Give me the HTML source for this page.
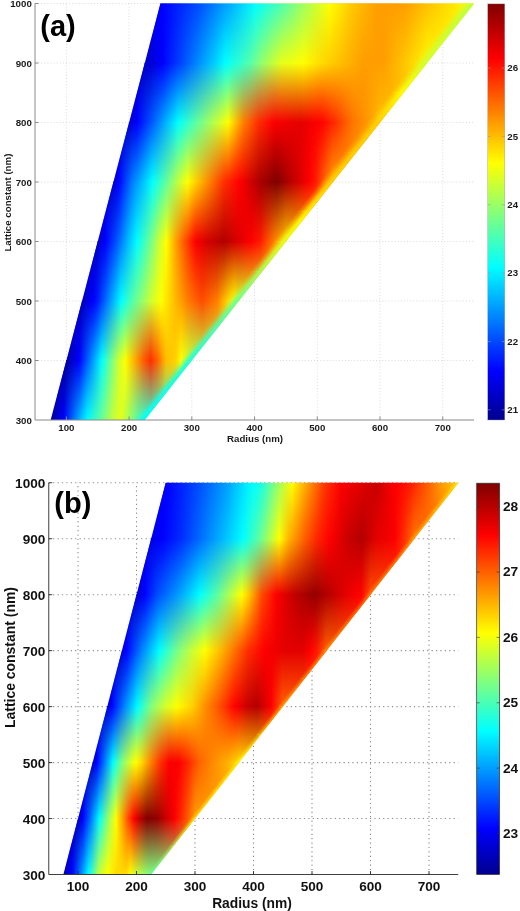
<!DOCTYPE html>
<html lang="en"><head><meta charset="utf-8"><title>Figure</title>
<style>
html,body{margin:0;padding:0;background:#fff}
body{width:520px;height:911px;overflow:hidden}
svg{display:block;font-family:"Liberation Sans",sans-serif;font-weight:bold}
</style></head><body>
<svg width="520" height="911" viewBox="0 0 520 911">
<defs><linearGradient id="ah300" gradientUnits="userSpaceOnUse" x1="50.66" y1="0" x2="144.8" y2="0"><stop offset="0.0000" stop-color="#000080"/><stop offset="0.0096" stop-color="#00009e"/><stop offset="0.1372" stop-color="#0000ff"/><stop offset="0.1439" stop-color="#0005ff"/><stop offset="0.2572" stop-color="#0080ff"/><stop offset="0.2761" stop-color="#0094ff"/><stop offset="0.3721" stop-color="#00f0ff"/><stop offset="0.3935" stop-color="#00ffff"/><stop offset="0.4723" stop-color="#38ffc7"/><stop offset="0.5704" stop-color="#80ff80"/><stop offset="0.6684" stop-color="#c7ff38"/><stop offset="0.7505" stop-color="#e5ff1a"/><stop offset="0.8305" stop-color="#9eff61"/><stop offset="0.8685" stop-color="#80ff80"/><stop offset="0.9318" stop-color="#4dffb2"/><stop offset="1.0000" stop-color="#38ffc7"/></linearGradient><linearGradient id="ah400" gradientUnits="userSpaceOnUse" x1="66.36" y1="0" x2="191.82" y2="0"><stop offset="0.0000" stop-color="#00009e"/><stop offset="0.0180" stop-color="#0000b2"/><stop offset="0.1005" stop-color="#0000ff"/><stop offset="0.1060" stop-color="#0005ff"/><stop offset="0.1924" stop-color="#0080ff"/><stop offset="0.2780" stop-color="#00faff"/><stop offset="0.2814" stop-color="#00ffff"/><stop offset="0.3524" stop-color="#6bff94"/><stop offset="0.3661" stop-color="#80ff80"/><stop offset="0.4140" stop-color="#c7ff38"/><stop offset="0.4690" stop-color="#ffff00"/><stop offset="0.4740" stop-color="#fffa00"/><stop offset="0.5492" stop-color="#ffa800"/><stop offset="0.5839" stop-color="#ff8000"/><stop offset="0.6100" stop-color="#ff6100"/><stop offset="0.6724" stop-color="#ff2e00"/><stop offset="0.7340" stop-color="#ff6b00"/><stop offset="0.7490" stop-color="#ff8000"/><stop offset="0.7940" stop-color="#ffbd00"/><stop offset="0.8692" stop-color="#ffd100"/><stop offset="0.9148" stop-color="#ffff00"/><stop offset="0.9300" stop-color="#f0ff0f"/><stop offset="1.0000" stop-color="#bdff42"/></linearGradient><linearGradient id="ah500" gradientUnits="userSpaceOnUse" x1="82.07" y1="0" x2="238.85" y2="0"><stop offset="0.0000" stop-color="#0000bd"/><stop offset="0.0707" stop-color="#0000ff"/><stop offset="0.0980" stop-color="#0019ff"/><stop offset="0.1636" stop-color="#0080ff"/><stop offset="0.1767" stop-color="#0094ff"/><stop offset="0.2458" stop-color="#00faff"/><stop offset="0.2501" stop-color="#00ffff"/><stop offset="0.3143" stop-color="#4dffb2"/><stop offset="0.3637" stop-color="#80ff80"/><stop offset="0.3835" stop-color="#94ff6b"/><stop offset="0.4424" stop-color="#d1ff2e"/><stop offset="0.5046" stop-color="#ffff00"/><stop offset="0.5115" stop-color="#fffa00"/><stop offset="0.5903" stop-color="#ffbd00"/><stop offset="0.6697" stop-color="#ff8000"/><stop offset="0.7657" stop-color="#ff4c00"/><stop offset="0.8617" stop-color="#ff8000"/><stop offset="0.9321" stop-color="#ffdb00"/><stop offset="0.9717" stop-color="#ffff00"/><stop offset="1.0000" stop-color="#e5ff1a"/></linearGradient><linearGradient id="ah600" gradientUnits="userSpaceOnUse" x1="97.73" y1="0" x2="285.92" y2="0"><stop offset="0.0000" stop-color="#0000c7"/><stop offset="0.0053" stop-color="#0000d1"/><stop offset="0.0393" stop-color="#0000ff"/><stop offset="0.0960" stop-color="#004dff"/><stop offset="0.1263" stop-color="#0080ff"/><stop offset="0.1627" stop-color="#00bdff"/><stop offset="0.2082" stop-color="#00ffff"/><stop offset="0.2117" stop-color="#05fffa"/><stop offset="0.2773" stop-color="#6bff94"/><stop offset="0.2880" stop-color="#80ff80"/><stop offset="0.3253" stop-color="#c7ff38"/><stop offset="0.3644" stop-color="#ffff00"/><stop offset="0.3680" stop-color="#fffa00"/><stop offset="0.4160" stop-color="#ff9e00"/><stop offset="0.4348" stop-color="#ff8000"/><stop offset="0.4661" stop-color="#ff4c00"/><stop offset="0.5191" stop-color="#ff0000"/><stop offset="0.5227" stop-color="#fa0000"/><stop offset="0.5893" stop-color="#d10000"/><stop offset="0.6720" stop-color="#b30000"/><stop offset="0.7627" stop-color="#e50000"/><stop offset="0.8133" stop-color="#ff0000"/><stop offset="0.8640" stop-color="#ff1a00"/><stop offset="0.9387" stop-color="#ff8000"/><stop offset="1.0000" stop-color="#ffc700"/></linearGradient><linearGradient id="ah700" gradientUnits="userSpaceOnUse" x1="113.39" y1="0" x2="332.99" y2="0"><stop offset="0.0000" stop-color="#0000d1"/><stop offset="0.0110" stop-color="#0000e6"/><stop offset="0.0236" stop-color="#0000ff"/><stop offset="0.0818" stop-color="#0075ff"/><stop offset="0.0888" stop-color="#0080ff"/><stop offset="0.1380" stop-color="#00c7ff"/><stop offset="0.1766" stop-color="#00ffff"/><stop offset="0.1801" stop-color="#05fffa"/><stop offset="0.2349" stop-color="#57ffa8"/><stop offset="0.2581" stop-color="#80ff80"/><stop offset="0.2930" stop-color="#bdff42"/><stop offset="0.3388" stop-color="#ffff00"/><stop offset="0.3423" stop-color="#fffa00"/><stop offset="0.3903" stop-color="#ffbd00"/><stop offset="0.4393" stop-color="#ff8000"/><stop offset="0.4474" stop-color="#ff7500"/><stop offset="0.5046" stop-color="#ff2e00"/><stop offset="0.5745" stop-color="#ff0000"/><stop offset="0.5823" stop-color="#fa0000"/><stop offset="0.6691" stop-color="#a80000"/><stop offset="0.7422" stop-color="#800000"/><stop offset="0.8016" stop-color="#b30000"/><stop offset="0.8611" stop-color="#e50000"/><stop offset="0.8908" stop-color="#ff0000"/><stop offset="0.9205" stop-color="#ff1a00"/><stop offset="0.9662" stop-color="#ff6b00"/><stop offset="0.9797" stop-color="#ff8000"/><stop offset="1.0000" stop-color="#ff9e00"/></linearGradient><linearGradient id="ah800" gradientUnits="userSpaceOnUse" x1="129.09" y1="0" x2="380.01" y2="0"><stop offset="0.0000" stop-color="#0000d1"/><stop offset="0.0311" stop-color="#0000ff"/><stop offset="0.0830" stop-color="#004dff"/><stop offset="0.1150" stop-color="#0080ff"/><stop offset="0.1950" stop-color="#00ffff"/><stop offset="0.2950" stop-color="#80ff80"/><stop offset="0.3950" stop-color="#ffff00"/><stop offset="0.4550" stop-color="#ff8000"/><stop offset="0.5150" stop-color="#ff2e00"/><stop offset="0.5762" stop-color="#ff0000"/><stop offset="0.5830" stop-color="#fa0000"/><stop offset="0.6830" stop-color="#e50000"/><stop offset="0.7563" stop-color="#ff0000"/><stop offset="0.7710" stop-color="#ff0500"/><stop offset="0.8214" stop-color="#ff2e00"/><stop offset="0.8910" stop-color="#ff7500"/><stop offset="0.9080" stop-color="#ff8000"/><stop offset="0.9590" stop-color="#ff9e00"/><stop offset="1.0000" stop-color="#ffbd00"/></linearGradient><linearGradient id="ah900" gradientUnits="userSpaceOnUse" x1="144.8" y1="0" x2="427.04" y2="0"><stop offset="0.0000" stop-color="#0000c7"/><stop offset="0.0181" stop-color="#0000d1"/><stop offset="0.0621" stop-color="#0000ff"/><stop offset="0.1355" stop-color="#004dff"/><stop offset="0.1793" stop-color="#0080ff"/><stop offset="0.2493" stop-color="#00d1ff"/><stop offset="0.2849" stop-color="#00ffff"/><stop offset="0.3666" stop-color="#4dffb2"/><stop offset="0.4022" stop-color="#80ff80"/><stop offset="0.4235" stop-color="#9eff61"/><stop offset="0.4840" stop-color="#e5ff1a"/><stop offset="0.5516" stop-color="#faff05"/><stop offset="0.5609" stop-color="#ffff00"/><stop offset="0.6262" stop-color="#ffdb00"/><stop offset="0.6991" stop-color="#ffbd00"/><stop offset="0.7720" stop-color="#ff9e00"/><stop offset="0.8467" stop-color="#ff9e00"/><stop offset="0.9214" stop-color="#ffc700"/><stop offset="0.9701" stop-color="#ffe500"/><stop offset="1.0000" stop-color="#fffa00"/></linearGradient><linearGradient id="ah1000" gradientUnits="userSpaceOnUse" x1="160.46" y1="0" x2="474.11" y2="0"><stop offset="0.0000" stop-color="#0000fa"/><stop offset="0.0077" stop-color="#0000ff"/><stop offset="0.1232" stop-color="#004dff"/><stop offset="0.1760" stop-color="#0080ff"/><stop offset="0.2288" stop-color="#00b2ff"/><stop offset="0.3024" stop-color="#00ffff"/><stop offset="0.3856" stop-color="#4dffb2"/><stop offset="0.4290" stop-color="#80ff80"/><stop offset="0.4464" stop-color="#94ff6b"/><stop offset="0.5008" stop-color="#d1ff2e"/><stop offset="0.5411" stop-color="#ffff00"/><stop offset="0.5456" stop-color="#fffa00"/><stop offset="0.6128" stop-color="#ffc700"/><stop offset="0.6896" stop-color="#ff9e00"/><stop offset="0.7792" stop-color="#ff9e00"/><stop offset="0.8451" stop-color="#ffbd00"/><stop offset="0.9104" stop-color="#ffdb00"/><stop offset="0.9552" stop-color="#fff000"/><stop offset="0.9888" stop-color="#ffff00"/><stop offset="1.0000" stop-color="#faff05"/></linearGradient><linearGradient id="av300" gradientUnits="userSpaceOnUse" x1="0" y1="420" x2="0" y2="360.5"><stop offset="0" stop-color="#fff" stop-opacity="0"/><stop offset="1" stop-color="#fff"/></linearGradient><mask id="am300" maskUnits="userSpaceOnUse" x="0" y="0" width="520" height="911"><rect x="0" y="359.5" width="520" height="61.5" fill="url(#av300)"/></mask><linearGradient id="av400" gradientUnits="userSpaceOnUse" x1="0" y1="360.5" x2="0" y2="301"><stop offset="0" stop-color="#fff" stop-opacity="0"/><stop offset="1" stop-color="#fff"/></linearGradient><mask id="am400" maskUnits="userSpaceOnUse" x="0" y="0" width="520" height="911"><rect x="0" y="300" width="520" height="61.5" fill="url(#av400)"/></mask><linearGradient id="av500" gradientUnits="userSpaceOnUse" x1="0" y1="301" x2="0" y2="241.5"><stop offset="0" stop-color="#fff" stop-opacity="0"/><stop offset="1" stop-color="#fff"/></linearGradient><mask id="am500" maskUnits="userSpaceOnUse" x="0" y="0" width="520" height="911"><rect x="0" y="240.5" width="520" height="61.5" fill="url(#av500)"/></mask><linearGradient id="av600" gradientUnits="userSpaceOnUse" x1="0" y1="241.5" x2="0" y2="182"><stop offset="0" stop-color="#fff" stop-opacity="0"/><stop offset="1" stop-color="#fff"/></linearGradient><mask id="am600" maskUnits="userSpaceOnUse" x="0" y="0" width="520" height="911"><rect x="0" y="181" width="520" height="61.5" fill="url(#av600)"/></mask><linearGradient id="av700" gradientUnits="userSpaceOnUse" x1="0" y1="182" x2="0" y2="122.5"><stop offset="0" stop-color="#fff" stop-opacity="0"/><stop offset="1" stop-color="#fff"/></linearGradient><mask id="am700" maskUnits="userSpaceOnUse" x="0" y="0" width="520" height="911"><rect x="0" y="121.5" width="520" height="61.5" fill="url(#av700)"/></mask><linearGradient id="av800" gradientUnits="userSpaceOnUse" x1="0" y1="122.5" x2="0" y2="63"><stop offset="0" stop-color="#fff" stop-opacity="0"/><stop offset="1" stop-color="#fff"/></linearGradient><mask id="am800" maskUnits="userSpaceOnUse" x="0" y="0" width="520" height="911"><rect x="0" y="62" width="520" height="61.5" fill="url(#av800)"/></mask><linearGradient id="av900" gradientUnits="userSpaceOnUse" x1="0" y1="63" x2="0" y2="3.5"><stop offset="0" stop-color="#fff" stop-opacity="0"/><stop offset="1" stop-color="#fff"/></linearGradient><mask id="am900" maskUnits="userSpaceOnUse" x="0" y="0" width="520" height="911"><rect x="0" y="2.5" width="520" height="61.5" fill="url(#av900)"/></mask><linearGradient id="aec" gradientUnits="userSpaceOnUse" x1="0" y1="3.5" x2="0" y2="420"><stop offset="0.0000" stop-color="#bdff42"/><stop offset="0.1429" stop-color="#d1ff2e"/><stop offset="0.2143" stop-color="#ffff00"/><stop offset="0.2857" stop-color="#ffd100"/><stop offset="0.4286" stop-color="#ffd100"/><stop offset="0.5204" stop-color="#ffff00"/><stop offset="0.5714" stop-color="#e5ff1a"/><stop offset="0.6905" stop-color="#80ff80"/><stop offset="0.7143" stop-color="#6bff94"/><stop offset="0.8571" stop-color="#1affe5"/><stop offset="1.0000" stop-color="#05fffa"/></linearGradient><linearGradient id="afg0" gradientUnits="userSpaceOnUse" x1="144.78" y1="420" x2="137.94" y2="414.6"><stop offset="0" stop-color="#fff" stop-opacity="1"/><stop offset="0.3" stop-color="#fff" stop-opacity="0.85"/><stop offset="0.65" stop-color="#fff" stop-opacity="0.3"/><stop offset="1" stop-color="#fff" stop-opacity="0"/></linearGradient><linearGradient id="afg1" gradientUnits="userSpaceOnUse" x1="168.3" y1="390.25" x2="161.34" y2="384.74"><stop offset="0" stop-color="#fff" stop-opacity="1"/><stop offset="0.3" stop-color="#fff" stop-opacity="0.85"/><stop offset="0.65" stop-color="#fff" stop-opacity="0.3"/><stop offset="1" stop-color="#fff" stop-opacity="0"/></linearGradient><linearGradient id="afg2" gradientUnits="userSpaceOnUse" x1="191.82" y1="360.5" x2="184.73" y2="354.89"><stop offset="0" stop-color="#fff" stop-opacity="1"/><stop offset="0.3" stop-color="#fff" stop-opacity="0.85"/><stop offset="0.65" stop-color="#fff" stop-opacity="0.3"/><stop offset="1" stop-color="#fff" stop-opacity="0"/></linearGradient><linearGradient id="afg3" gradientUnits="userSpaceOnUse" x1="215.35" y1="330.75" x2="208.12" y2="325.03"><stop offset="0" stop-color="#fff" stop-opacity="1"/><stop offset="0.3" stop-color="#fff" stop-opacity="0.85"/><stop offset="0.65" stop-color="#fff" stop-opacity="0.3"/><stop offset="1" stop-color="#fff" stop-opacity="0"/></linearGradient><linearGradient id="afg4" gradientUnits="userSpaceOnUse" x1="238.87" y1="301" x2="231.51" y2="295.18"><stop offset="0" stop-color="#fff" stop-opacity="1"/><stop offset="0.3" stop-color="#fff" stop-opacity="0.85"/><stop offset="0.65" stop-color="#fff" stop-opacity="0.3"/><stop offset="1" stop-color="#fff" stop-opacity="0"/></linearGradient><linearGradient id="afg5" gradientUnits="userSpaceOnUse" x1="262.4" y1="271.25" x2="254.9" y2="265.32"><stop offset="0" stop-color="#fff" stop-opacity="1"/><stop offset="0.3" stop-color="#fff" stop-opacity="0.85"/><stop offset="0.65" stop-color="#fff" stop-opacity="0.3"/><stop offset="1" stop-color="#fff" stop-opacity="0"/></linearGradient><linearGradient id="afg6" gradientUnits="userSpaceOnUse" x1="285.92" y1="241.5" x2="278.29" y2="235.47"><stop offset="0" stop-color="#fff" stop-opacity="1"/><stop offset="0.3" stop-color="#fff" stop-opacity="0.85"/><stop offset="0.65" stop-color="#fff" stop-opacity="0.3"/><stop offset="1" stop-color="#fff" stop-opacity="0"/></linearGradient><linearGradient id="afg7" gradientUnits="userSpaceOnUse" x1="309.44" y1="211.75" x2="301.69" y2="205.62"><stop offset="0" stop-color="#fff" stop-opacity="1"/><stop offset="0.3" stop-color="#fff" stop-opacity="0.85"/><stop offset="0.65" stop-color="#fff" stop-opacity="0.3"/><stop offset="1" stop-color="#fff" stop-opacity="0"/></linearGradient><linearGradient id="afg8" gradientUnits="userSpaceOnUse" x1="332.97" y1="182" x2="325.08" y2="175.76"><stop offset="0" stop-color="#fff" stop-opacity="1"/><stop offset="0.3" stop-color="#fff" stop-opacity="0.85"/><stop offset="0.65" stop-color="#fff" stop-opacity="0.3"/><stop offset="1" stop-color="#fff" stop-opacity="0"/></linearGradient><linearGradient id="afg9" gradientUnits="userSpaceOnUse" x1="356.49" y1="152.25" x2="348.47" y2="145.91"><stop offset="0" stop-color="#fff" stop-opacity="1"/><stop offset="0.3" stop-color="#fff" stop-opacity="0.85"/><stop offset="0.65" stop-color="#fff" stop-opacity="0.3"/><stop offset="1" stop-color="#fff" stop-opacity="0"/></linearGradient><linearGradient id="afg10" gradientUnits="userSpaceOnUse" x1="380.01" y1="122.5" x2="371.86" y2="116.05"><stop offset="0" stop-color="#fff" stop-opacity="1"/><stop offset="0.3" stop-color="#fff" stop-opacity="0.85"/><stop offset="0.65" stop-color="#fff" stop-opacity="0.3"/><stop offset="1" stop-color="#fff" stop-opacity="0"/></linearGradient><linearGradient id="afg11" gradientUnits="userSpaceOnUse" x1="403.54" y1="92.75" x2="395.25" y2="86.2"><stop offset="0" stop-color="#fff" stop-opacity="1"/><stop offset="0.3" stop-color="#fff" stop-opacity="0.85"/><stop offset="0.65" stop-color="#fff" stop-opacity="0.3"/><stop offset="1" stop-color="#fff" stop-opacity="0"/></linearGradient><linearGradient id="afg12" gradientUnits="userSpaceOnUse" x1="427.06" y1="63" x2="418.65" y2="56.35"><stop offset="0" stop-color="#fff" stop-opacity="1"/><stop offset="0.3" stop-color="#fff" stop-opacity="0.85"/><stop offset="0.65" stop-color="#fff" stop-opacity="0.3"/><stop offset="1" stop-color="#fff" stop-opacity="0"/></linearGradient><linearGradient id="afg13" gradientUnits="userSpaceOnUse" x1="450.59" y1="33.25" x2="442.04" y2="26.49"><stop offset="0" stop-color="#fff" stop-opacity="1"/><stop offset="0.3" stop-color="#fff" stop-opacity="0.85"/><stop offset="0.65" stop-color="#fff" stop-opacity="0.3"/><stop offset="1" stop-color="#fff" stop-opacity="0"/></linearGradient><mask id="afm" maskUnits="userSpaceOnUse" x="0" y="0" width="520" height="911"><polygon points="146.78,420.3 170.3,389.95 156.19,389.95 132.67,420.3" fill="url(#afg0)"/><polygon points="170.3,390.55 193.82,360.2 179.5,360.2 155.98,390.55" fill="url(#afg1)"/><polygon points="193.82,360.8 217.35,330.45 202.81,330.45 179.29,360.8" fill="url(#afg2)"/><polygon points="217.35,331.05 240.87,300.7 226.12,300.7 202.6,331.05" fill="url(#afg3)"/><polygon points="240.87,301.3 264.4,270.95 249.43,270.95 225.91,301.3" fill="url(#afg4)"/><polygon points="264.4,271.55 287.92,241.2 272.74,241.2 249.22,271.55" fill="url(#afg5)"/><polygon points="287.92,241.8 311.44,211.45 296.05,211.45 272.53,241.8" fill="url(#afg6)"/><polygon points="311.44,212.05 334.97,181.7 319.36,181.7 295.84,212.05" fill="url(#afg7)"/><polygon points="334.97,182.3 358.49,151.95 342.67,151.95 319.15,182.3" fill="url(#afg8)"/><polygon points="358.49,152.55 382.01,122.2 365.98,122.2 342.46,152.55" fill="url(#afg9)"/><polygon points="382.01,122.8 405.54,92.45 389.29,92.45 365.76,122.8" fill="url(#afg10)"/><polygon points="405.54,93.05 429.06,62.7 412.6,62.7 389.07,93.05" fill="url(#afg11)"/><polygon points="429.06,63.3 452.59,32.95 435.91,32.95 412.38,63.3" fill="url(#afg12)"/><polygon points="452.59,33.55 476.11,3.2 459.22,3.2 435.69,33.55" fill="url(#afg13)"/></mask><clipPath id="aclip"><polygon points="50.68,420 160.46,3.5 474.11,3.5 144.78,420"/></clipPath><linearGradient id="bh300" gradientUnits="userSpaceOnUse" x1="63.4" y1="0" x2="151.1" y2="0"><stop offset="0.0000" stop-color="#00009e"/><stop offset="0.0137" stop-color="#0000b2"/><stop offset="0.0941" stop-color="#0000ff"/><stop offset="0.1209" stop-color="#0019ff"/><stop offset="0.1954" stop-color="#0080ff"/><stop offset="0.2326" stop-color="#00b2ff"/><stop offset="0.2875" stop-color="#00ffff"/><stop offset="0.3204" stop-color="#2effd1"/><stop offset="0.3660" stop-color="#80ff80"/><stop offset="0.4059" stop-color="#c7ff38"/><stop offset="0.4971" stop-color="#faff05"/><stop offset="0.5107" stop-color="#ffff00"/><stop offset="0.6055" stop-color="#ffdb00"/><stop offset="0.7138" stop-color="#ffdb00"/><stop offset="0.7627" stop-color="#ffff00"/><stop offset="0.8255" stop-color="#d1ff2e"/><stop offset="0.9350" stop-color="#94ff6b"/><stop offset="1.0000" stop-color="#80ff80"/></linearGradient><linearGradient id="bh400" gradientUnits="userSpaceOnUse" x1="78" y1="0" x2="195" y2="0"><stop offset="0.0000" stop-color="#0000bd"/><stop offset="0.0403" stop-color="#0000ff"/><stop offset="0.0991" stop-color="#0061ff"/><stop offset="0.1152" stop-color="#0080ff"/><stop offset="0.1795" stop-color="#00faff"/><stop offset="0.1821" stop-color="#00ffff"/><stop offset="0.2475" stop-color="#80ff80"/><stop offset="0.2632" stop-color="#9eff61"/><stop offset="0.3238" stop-color="#ffff00"/><stop offset="0.3462" stop-color="#ffdb00"/><stop offset="0.3984" stop-color="#ff8000"/><stop offset="0.4274" stop-color="#ff4c00"/><stop offset="0.4792" stop-color="#ff0000"/><stop offset="0.5103" stop-color="#d10000"/><stop offset="0.5897" stop-color="#800000"/><stop offset="0.6752" stop-color="#940000"/><stop offset="0.7470" stop-color="#c70000"/><stop offset="0.8205" stop-color="#fa0000"/><stop offset="0.8274" stop-color="#ff0000"/><stop offset="0.8889" stop-color="#ff2e00"/><stop offset="0.9641" stop-color="#ff7500"/><stop offset="0.9731" stop-color="#ff8000"/><stop offset="1.0000" stop-color="#ff9e00"/></linearGradient><linearGradient id="bh500" gradientUnits="userSpaceOnUse" x1="92.6" y1="0" x2="238.9" y2="0"><stop offset="0.0000" stop-color="#0000c7"/><stop offset="0.0062" stop-color="#0000d1"/><stop offset="0.0270" stop-color="#0000ff"/><stop offset="0.0711" stop-color="#0061ff"/><stop offset="0.0843" stop-color="#0080ff"/><stop offset="0.1374" stop-color="#00faff"/><stop offset="0.1398" stop-color="#00ffff"/><stop offset="0.2010" stop-color="#80ff80"/><stop offset="0.2693" stop-color="#e5ff1a"/><stop offset="0.2964" stop-color="#ffff00"/><stop offset="0.3342" stop-color="#ffdb00"/><stop offset="0.3992" stop-color="#ff8000"/><stop offset="0.4662" stop-color="#ff2e00"/><stop offset="0.5228" stop-color="#ff0000"/><stop offset="0.5290" stop-color="#fa0000"/><stop offset="0.5837" stop-color="#fa0000"/><stop offset="0.5920" stop-color="#ff0000"/><stop offset="0.6500" stop-color="#ff2400"/><stop offset="0.7273" stop-color="#ff6100"/><stop offset="0.7975" stop-color="#ff8000"/><stop offset="0.8209" stop-color="#ff8a00"/><stop offset="0.9255" stop-color="#ffb300"/><stop offset="1.0000" stop-color="#ffdb00"/></linearGradient><linearGradient id="bh600" gradientUnits="userSpaceOnUse" x1="107.25" y1="0" x2="282.75" y2="0"><stop offset="0.0000" stop-color="#0000d1"/><stop offset="0.0252" stop-color="#0000ff"/><stop offset="0.0897" stop-color="#0075ff"/><stop offset="0.0959" stop-color="#0080ff"/><stop offset="0.1695" stop-color="#00faff"/><stop offset="0.1725" stop-color="#00ffff"/><stop offset="0.2481" stop-color="#80ff80"/><stop offset="0.3268" stop-color="#d1ff2e"/><stop offset="0.3981" stop-color="#ffff00"/><stop offset="0.4060" stop-color="#fffa00"/><stop offset="0.4846" stop-color="#ffd100"/><stop offset="0.5627" stop-color="#ff8a00"/><stop offset="0.5760" stop-color="#ff8000"/><stop offset="0.6425" stop-color="#ff4c00"/><stop offset="0.7222" stop-color="#ff0500"/><stop offset="0.7287" stop-color="#ff0000"/><stop offset="0.8003" stop-color="#c70000"/><stop offset="0.8533" stop-color="#b30000"/><stop offset="0.9313" stop-color="#fa0000"/><stop offset="0.9348" stop-color="#ff0000"/><stop offset="1.0000" stop-color="#ff6100"/></linearGradient><linearGradient id="bh700" gradientUnits="userSpaceOnUse" x1="121.9" y1="0" x2="326.6" y2="0"><stop offset="0.0000" stop-color="#0000d1"/><stop offset="0.0054" stop-color="#0000e6"/><stop offset="0.0204" stop-color="#0000ff"/><stop offset="0.0957" stop-color="#0080ff"/><stop offset="0.1827" stop-color="#00ffff"/><stop offset="0.1861" stop-color="#05fffa"/><stop offset="0.2765" stop-color="#80ff80"/><stop offset="0.3425" stop-color="#c7ff38"/><stop offset="0.4051" stop-color="#ffff00"/><stop offset="0.4108" stop-color="#fffa00"/><stop offset="0.4792" stop-color="#ffbd00"/><stop offset="0.5379" stop-color="#ff8000"/><stop offset="0.5476" stop-color="#ff7500"/><stop offset="0.6146" stop-color="#ff2e00"/><stop offset="0.6950" stop-color="#ff0000"/><stop offset="0.7040" stop-color="#fa0000"/><stop offset="0.7948" stop-color="#e50000"/><stop offset="0.8847" stop-color="#e50000"/><stop offset="0.9189" stop-color="#ff0000"/><stop offset="0.9531" stop-color="#ff1a00"/><stop offset="1.0000" stop-color="#ff6100"/></linearGradient><linearGradient id="bh800" gradientUnits="userSpaceOnUse" x1="136.5" y1="0" x2="370.5" y2="0"><stop offset="0.0000" stop-color="#0000d1"/><stop offset="0.0340" stop-color="#0000ff"/><stop offset="0.0906" stop-color="#004dff"/><stop offset="0.1462" stop-color="#0080ff"/><stop offset="0.1795" stop-color="#009eff"/><stop offset="0.2671" stop-color="#00faff"/><stop offset="0.2712" stop-color="#00ffff"/><stop offset="0.3419" stop-color="#57ffa8"/><stop offset="0.3675" stop-color="#80ff80"/><stop offset="0.4124" stop-color="#c7ff38"/><stop offset="0.4490" stop-color="#ffff00"/><stop offset="0.4722" stop-color="#ffdb00"/><stop offset="0.5121" stop-color="#ff8000"/><stop offset="0.5342" stop-color="#ff4c00"/><stop offset="0.5963" stop-color="#ff0000"/><stop offset="0.6004" stop-color="#fa0000"/><stop offset="0.6816" stop-color="#bd0000"/><stop offset="0.7628" stop-color="#940000"/><stop offset="0.8312" stop-color="#bd0000"/><stop offset="0.8953" stop-color="#e50000"/><stop offset="0.9505" stop-color="#ff0000"/><stop offset="0.9615" stop-color="#ff0500"/><stop offset="1.0000" stop-color="#ff4c00"/></linearGradient><linearGradient id="bh900" gradientUnits="userSpaceOnUse" x1="151.1" y1="0" x2="414.4" y2="0"><stop offset="0.0000" stop-color="#0000e6"/><stop offset="0.0419" stop-color="#0000ff"/><stop offset="0.1174" stop-color="#002eff"/><stop offset="0.2085" stop-color="#0080ff"/><stop offset="0.2883" stop-color="#00c7ff"/><stop offset="0.3474" stop-color="#00ffff"/><stop offset="0.3528" stop-color="#05fffa"/><stop offset="0.4060" stop-color="#57ffa8"/><stop offset="0.4259" stop-color="#80ff80"/><stop offset="0.4459" stop-color="#a8ff57"/><stop offset="0.4850" stop-color="#faff05"/><stop offset="0.4874" stop-color="#ffff00"/><stop offset="0.5237" stop-color="#ffb300"/><stop offset="0.5593" stop-color="#ff8000"/><stop offset="0.5807" stop-color="#ff6100"/><stop offset="0.6327" stop-color="#ff2400"/><stop offset="0.6786" stop-color="#ff0000"/><stop offset="0.6852" stop-color="#fa0000"/><stop offset="0.7516" stop-color="#c70000"/><stop offset="0.8036" stop-color="#b30000"/><stop offset="0.8561" stop-color="#e50000"/><stop offset="0.9225" stop-color="#fa0000"/><stop offset="0.9263" stop-color="#ff0000"/><stop offset="0.9605" stop-color="#ff2e00"/><stop offset="1.0000" stop-color="#ff7500"/></linearGradient><linearGradient id="bh1000" gradientUnits="userSpaceOnUse" x1="165.75" y1="0" x2="458.25" y2="0"><stop offset="0.0000" stop-color="#0000fa"/><stop offset="0.0071" stop-color="#0000ff"/><stop offset="0.1137" stop-color="#004dff"/><stop offset="0.1735" stop-color="#0080ff"/><stop offset="0.2094" stop-color="#009eff"/><stop offset="0.2802" stop-color="#00f0ff"/><stop offset="0.2979" stop-color="#00ffff"/><stop offset="0.3274" stop-color="#1affe5"/><stop offset="0.3735" stop-color="#80ff80"/><stop offset="0.4104" stop-color="#d1ff2e"/><stop offset="0.4328" stop-color="#ffff00"/><stop offset="0.4453" stop-color="#ffe500"/><stop offset="0.4966" stop-color="#ff8a00"/><stop offset="0.5024" stop-color="#ff8000"/><stop offset="0.5431" stop-color="#ff3800"/><stop offset="0.5976" stop-color="#ff0000"/><stop offset="0.6026" stop-color="#fa0000"/><stop offset="0.6607" stop-color="#e50000"/><stop offset="0.7205" stop-color="#c70000"/><stop offset="0.7803" stop-color="#fa0000"/><stop offset="0.7900" stop-color="#ff0000"/><stop offset="0.8385" stop-color="#ff1a00"/><stop offset="0.8983" stop-color="#ff6100"/><stop offset="0.9214" stop-color="#ff8000"/><stop offset="0.9444" stop-color="#ff9e00"/><stop offset="1.0000" stop-color="#ffd100"/></linearGradient><linearGradient id="bv300" gradientUnits="userSpaceOnUse" x1="0" y1="874.5" x2="0" y2="818.54"><stop offset="0" stop-color="#fff" stop-opacity="0"/><stop offset="1" stop-color="#fff"/></linearGradient><mask id="bm300" maskUnits="userSpaceOnUse" x="0" y="0" width="520" height="911"><rect x="0" y="817.54" width="520" height="57.96" fill="url(#bv300)"/></mask><linearGradient id="bv400" gradientUnits="userSpaceOnUse" x1="0" y1="818.54" x2="0" y2="762.58"><stop offset="0" stop-color="#fff" stop-opacity="0"/><stop offset="1" stop-color="#fff"/></linearGradient><mask id="bm400" maskUnits="userSpaceOnUse" x="0" y="0" width="520" height="911"><rect x="0" y="761.58" width="520" height="57.96" fill="url(#bv400)"/></mask><linearGradient id="bv500" gradientUnits="userSpaceOnUse" x1="0" y1="762.58" x2="0" y2="706.62"><stop offset="0" stop-color="#fff" stop-opacity="0"/><stop offset="1" stop-color="#fff"/></linearGradient><mask id="bm500" maskUnits="userSpaceOnUse" x="0" y="0" width="520" height="911"><rect x="0" y="705.62" width="520" height="57.96" fill="url(#bv500)"/></mask><linearGradient id="bv600" gradientUnits="userSpaceOnUse" x1="0" y1="706.62" x2="0" y2="650.66"><stop offset="0" stop-color="#fff" stop-opacity="0"/><stop offset="1" stop-color="#fff"/></linearGradient><mask id="bm600" maskUnits="userSpaceOnUse" x="0" y="0" width="520" height="911"><rect x="0" y="649.66" width="520" height="57.96" fill="url(#bv600)"/></mask><linearGradient id="bv700" gradientUnits="userSpaceOnUse" x1="0" y1="650.66" x2="0" y2="594.7"><stop offset="0" stop-color="#fff" stop-opacity="0"/><stop offset="1" stop-color="#fff"/></linearGradient><mask id="bm700" maskUnits="userSpaceOnUse" x="0" y="0" width="520" height="911"><rect x="0" y="593.7" width="520" height="57.96" fill="url(#bv700)"/></mask><linearGradient id="bv800" gradientUnits="userSpaceOnUse" x1="0" y1="594.7" x2="0" y2="538.74"><stop offset="0" stop-color="#fff" stop-opacity="0"/><stop offset="1" stop-color="#fff"/></linearGradient><mask id="bm800" maskUnits="userSpaceOnUse" x="0" y="0" width="520" height="911"><rect x="0" y="537.74" width="520" height="57.96" fill="url(#bv800)"/></mask><linearGradient id="bv900" gradientUnits="userSpaceOnUse" x1="0" y1="538.74" x2="0" y2="482.78"><stop offset="0" stop-color="#fff" stop-opacity="0"/><stop offset="1" stop-color="#fff"/></linearGradient><mask id="bm900" maskUnits="userSpaceOnUse" x="0" y="0" width="520" height="911"><rect x="0" y="481.78" width="520" height="57.96" fill="url(#bv900)"/></mask><linearGradient id="bec" gradientUnits="userSpaceOnUse" x1="0" y1="482.78" x2="0" y2="874.5"><stop offset="0.0000" stop-color="#fff000"/><stop offset="0.1429" stop-color="#ffb300"/><stop offset="0.2857" stop-color="#ff8a00"/><stop offset="0.4286" stop-color="#ff9e00"/><stop offset="0.5714" stop-color="#ffb300"/><stop offset="0.7054" stop-color="#ffff00"/><stop offset="0.7143" stop-color="#faff05"/><stop offset="0.7500" stop-color="#ffff00"/><stop offset="0.8571" stop-color="#fff000"/><stop offset="0.8690" stop-color="#ffff00"/><stop offset="0.9683" stop-color="#80ff80"/><stop offset="1.0000" stop-color="#57ffa8"/></linearGradient><linearGradient id="bfg0" gradientUnits="userSpaceOnUse" x1="151.12" y1="874.5" x2="148.01" y2="872.05"><stop offset="0" stop-color="#fff" stop-opacity="0.8"/><stop offset="0.4" stop-color="#fff" stop-opacity="0.4"/><stop offset="1" stop-color="#fff" stop-opacity="0"/></linearGradient><linearGradient id="bfg1" gradientUnits="userSpaceOnUse" x1="173.06" y1="846.52" x2="169.9" y2="844.04"><stop offset="0" stop-color="#fff" stop-opacity="0.8"/><stop offset="0.4" stop-color="#fff" stop-opacity="0.4"/><stop offset="1" stop-color="#fff" stop-opacity="0"/></linearGradient><linearGradient id="bfg2" gradientUnits="userSpaceOnUse" x1="195" y1="818.54" x2="191.79" y2="816.03"><stop offset="0" stop-color="#fff" stop-opacity="0.8"/><stop offset="0.4" stop-color="#fff" stop-opacity="0.4"/><stop offset="1" stop-color="#fff" stop-opacity="0"/></linearGradient><linearGradient id="bfg3" gradientUnits="userSpaceOnUse" x1="216.94" y1="790.56" x2="213.69" y2="788.01"><stop offset="0" stop-color="#fff" stop-opacity="0.8"/><stop offset="0.4" stop-color="#fff" stop-opacity="0.4"/><stop offset="1" stop-color="#fff" stop-opacity="0"/></linearGradient><linearGradient id="bfg4" gradientUnits="userSpaceOnUse" x1="238.88" y1="762.58" x2="235.58" y2="760"><stop offset="0" stop-color="#fff" stop-opacity="0.8"/><stop offset="0.4" stop-color="#fff" stop-opacity="0.4"/><stop offset="1" stop-color="#fff" stop-opacity="0"/></linearGradient><linearGradient id="bfg5" gradientUnits="userSpaceOnUse" x1="260.81" y1="734.6" x2="257.47" y2="731.98"><stop offset="0" stop-color="#fff" stop-opacity="0.8"/><stop offset="0.4" stop-color="#fff" stop-opacity="0.4"/><stop offset="1" stop-color="#fff" stop-opacity="0"/></linearGradient><linearGradient id="bfg6" gradientUnits="userSpaceOnUse" x1="282.75" y1="706.62" x2="279.37" y2="703.97"><stop offset="0" stop-color="#fff" stop-opacity="0.8"/><stop offset="0.4" stop-color="#fff" stop-opacity="0.4"/><stop offset="1" stop-color="#fff" stop-opacity="0"/></linearGradient><linearGradient id="bfg7" gradientUnits="userSpaceOnUse" x1="304.69" y1="678.64" x2="301.26" y2="675.95"><stop offset="0" stop-color="#fff" stop-opacity="0.8"/><stop offset="0.4" stop-color="#fff" stop-opacity="0.4"/><stop offset="1" stop-color="#fff" stop-opacity="0"/></linearGradient><linearGradient id="bfg8" gradientUnits="userSpaceOnUse" x1="326.62" y1="650.66" x2="323.15" y2="647.94"><stop offset="0" stop-color="#fff" stop-opacity="0.8"/><stop offset="0.4" stop-color="#fff" stop-opacity="0.4"/><stop offset="1" stop-color="#fff" stop-opacity="0"/></linearGradient><linearGradient id="bfg9" gradientUnits="userSpaceOnUse" x1="348.56" y1="622.68" x2="345.05" y2="619.92"><stop offset="0" stop-color="#fff" stop-opacity="0.8"/><stop offset="0.4" stop-color="#fff" stop-opacity="0.4"/><stop offset="1" stop-color="#fff" stop-opacity="0"/></linearGradient><linearGradient id="bfg10" gradientUnits="userSpaceOnUse" x1="370.5" y1="594.7" x2="366.94" y2="591.91"><stop offset="0" stop-color="#fff" stop-opacity="0.8"/><stop offset="0.4" stop-color="#fff" stop-opacity="0.4"/><stop offset="1" stop-color="#fff" stop-opacity="0"/></linearGradient><linearGradient id="bfg11" gradientUnits="userSpaceOnUse" x1="392.44" y1="566.72" x2="388.83" y2="563.89"><stop offset="0" stop-color="#fff" stop-opacity="0.8"/><stop offset="0.4" stop-color="#fff" stop-opacity="0.4"/><stop offset="1" stop-color="#fff" stop-opacity="0"/></linearGradient><linearGradient id="bfg12" gradientUnits="userSpaceOnUse" x1="414.38" y1="538.74" x2="410.73" y2="535.88"><stop offset="0" stop-color="#fff" stop-opacity="0.8"/><stop offset="0.4" stop-color="#fff" stop-opacity="0.4"/><stop offset="1" stop-color="#fff" stop-opacity="0"/></linearGradient><linearGradient id="bfg13" gradientUnits="userSpaceOnUse" x1="436.31" y1="510.76" x2="432.62" y2="507.86"><stop offset="0" stop-color="#fff" stop-opacity="0.8"/><stop offset="0.4" stop-color="#fff" stop-opacity="0.4"/><stop offset="1" stop-color="#fff" stop-opacity="0"/></linearGradient><mask id="bfm" maskUnits="userSpaceOnUse" x="0" y="0" width="520" height="911"><polygon points="153.12,874.8 175.06,846.22 167.03,846.22 145.09,874.8" fill="url(#bfg0)"/><polygon points="175.06,846.82 197,818.24 188.89,818.24 166.96,846.82" fill="url(#bfg1)"/><polygon points="197,818.84 218.94,790.26 210.76,790.26 188.82,818.84" fill="url(#bfg2)"/><polygon points="218.94,790.86 240.88,762.28 232.62,762.28 210.69,790.86" fill="url(#bfg3)"/><polygon points="240.88,762.88 262.81,734.3 254.49,734.3 232.55,762.88" fill="url(#bfg4)"/><polygon points="262.81,734.9 284.75,706.32 276.36,706.32 254.42,734.9" fill="url(#bfg5)"/><polygon points="284.75,706.92 306.69,678.34 298.22,678.34 276.29,706.92" fill="url(#bfg6)"/><polygon points="306.69,678.94 328.62,650.36 320.09,650.36 298.15,678.94" fill="url(#bfg7)"/><polygon points="328.62,650.96 350.56,622.38 341.96,622.38 320.02,650.96" fill="url(#bfg8)"/><polygon points="350.56,622.98 372.5,594.4 363.82,594.4 341.88,622.98" fill="url(#bfg9)"/><polygon points="372.5,595 394.44,566.42 385.69,566.42 363.75,595" fill="url(#bfg10)"/><polygon points="394.44,567.02 416.38,538.44 407.55,538.44 385.62,567.02" fill="url(#bfg11)"/><polygon points="416.38,539.04 438.31,510.46 429.42,510.46 407.48,539.04" fill="url(#bfg12)"/><polygon points="438.31,511.06 460.25,482.48 451.29,482.48 429.35,511.06" fill="url(#bfg13)"/></mask><clipPath id="bclip"><polygon points="63.38,874.5 165.75,482.78 458.25,482.78 151.12,874.5"/></clipPath><linearGradient id="acb" x1="0" y1="1" x2="0" y2="0"><stop offset="0.0000" stop-color="#00008f"/><stop offset="0.1172" stop-color="#0000ff"/><stop offset="0.3672" stop-color="#00ffff"/><stop offset="0.6172" stop-color="#ffff00"/><stop offset="0.8672" stop-color="#ff0000"/><stop offset="1.0000" stop-color="#800000"/></linearGradient><linearGradient id="bcb" x1="0" y1="1" x2="0" y2="0"><stop offset="0.0000" stop-color="#00008f"/><stop offset="0.1172" stop-color="#0000ff"/><stop offset="0.3672" stop-color="#00ffff"/><stop offset="0.6172" stop-color="#ffff00"/><stop offset="0.8672" stop-color="#ff0000"/><stop offset="1.0000" stop-color="#800000"/></linearGradient></defs>
<rect width="520" height="911" fill="#fff"/>
<!-- panel a -->
<g stroke="#d2d2d2" stroke-width="0.8" stroke-dasharray="1 2.1" fill="none"><path d="M66.36 420V3.5"/><path d="M129.09 420V3.5"/><path d="M191.82 420V3.5"/><path d="M254.55 420V3.5"/><path d="M317.28 420V3.5"/><path d="M380.01 420V3.5"/><path d="M442.75 420V3.5"/><path d="M35 360.5H474.1"/><path d="M35 301H474.1"/><path d="M35 241.5H474.1"/><path d="M35 182H474.1"/><path d="M35 122.5H474.1"/><path d="M35 63H474.1"/><path d="M35 3.5H474.1"/></g>
<g clip-path="url(#aclip)"><rect x="35" y="360" width="439.1" height="60.5" fill="url(#ah300)"/><rect x="35" y="360" width="439.1" height="60.5" fill="url(#ah400)" mask="url(#am300)"/><rect x="35" y="300.5" width="439.1" height="60.5" fill="url(#ah400)"/><rect x="35" y="300.5" width="439.1" height="60.5" fill="url(#ah500)" mask="url(#am400)"/><rect x="35" y="241" width="439.1" height="60.5" fill="url(#ah500)"/><rect x="35" y="241" width="439.1" height="60.5" fill="url(#ah600)" mask="url(#am500)"/><rect x="35" y="181.5" width="439.1" height="60.5" fill="url(#ah600)"/><rect x="35" y="181.5" width="439.1" height="60.5" fill="url(#ah700)" mask="url(#am600)"/><rect x="35" y="122" width="439.1" height="60.5" fill="url(#ah700)"/><rect x="35" y="122" width="439.1" height="60.5" fill="url(#ah800)" mask="url(#am700)"/><rect x="35" y="62.5" width="439.1" height="60.5" fill="url(#ah800)"/><rect x="35" y="62.5" width="439.1" height="60.5" fill="url(#ah900)" mask="url(#am800)"/><rect x="35" y="3" width="439.1" height="60.5" fill="url(#ah900)"/><rect x="35" y="3" width="439.1" height="60.5" fill="url(#ah1000)" mask="url(#am900)"/><rect x="35" y="2.5" width="441.1" height="418.5" fill="url(#aec)" mask="url(#afm)"/></g>
<path d="M35 3.5V420H474.1M66.36 420v-3.5M129.09 420v-3.5M191.82 420v-3.5M254.55 420v-3.5M317.28 420v-3.5M380.01 420v-3.5M442.75 420v-3.5M35 360.5h3.5M35 301h3.5M35 241.5h3.5M35 182h3.5M35 122.5h3.5M35 63h3.5M35 3.5h3.5" stroke="#8a8a8a" stroke-width="1" fill="none"/>
<g font-size="9.7" fill="#1a1a1a"><text x="31.8" y="423.9" text-anchor="end">300</text><text x="31.8" y="364.4" text-anchor="end">400</text><text x="31.8" y="304.9" text-anchor="end">500</text><text x="31.8" y="245.4" text-anchor="end">600</text><text x="31.8" y="185.9" text-anchor="end">700</text><text x="31.8" y="126.4" text-anchor="end">800</text><text x="31.8" y="66.9" text-anchor="end">900</text><text x="31.8" y="7.4" text-anchor="end">1000</text><text x="66.36" y="431.3" text-anchor="middle">100</text><text x="129.09" y="431.3" text-anchor="middle">200</text><text x="191.82" y="431.3" text-anchor="middle">300</text><text x="254.55" y="431.3" text-anchor="middle">400</text><text x="317.28" y="431.3" text-anchor="middle">500</text><text x="380.01" y="431.3" text-anchor="middle">600</text><text x="442.75" y="431.3" text-anchor="middle">700</text></g>
<text x="255" y="442" font-size="9.7" text-anchor="middle" fill="#1a1a1a">Radius (nm)</text>
<text transform="translate(11.2 202.6) rotate(-90)" font-size="9.7" text-anchor="middle" fill="#1a1a1a">Lattice constant (nm)</text>
<text x="40.3" y="36" font-size="29" fill="#000">(a)</text>
<rect x="487.8" y="3.9" width="17" height="416.1" fill="url(#acb)" stroke="#999" stroke-width="0.4"/><g font-size="9.7" fill="#1a1a1a"><path d="M501.8 409.85H504.8M487.8 409.85h3" stroke="#999" stroke-width="0.6"/><text x="507.3" y="412.95">21</text><path d="M501.8 341.5H504.8M487.8 341.5h3" stroke="#999" stroke-width="0.6"/><text x="507.3" y="344.6">22</text><path d="M501.8 273.15H504.8M487.8 273.15h3" stroke="#999" stroke-width="0.6"/><text x="507.3" y="276.25">23</text><path d="M501.8 204.8H504.8M487.8 204.8h3" stroke="#999" stroke-width="0.6"/><text x="507.3" y="207.9">24</text><path d="M501.8 136.45H504.8M487.8 136.45h3" stroke="#999" stroke-width="0.6"/><text x="507.3" y="139.55">25</text><path d="M501.8 68.1H504.8M487.8 68.1h3" stroke="#999" stroke-width="0.6"/><text x="507.3" y="71.2">26</text></g>
<!-- panel b -->
<g stroke="#8c8c8c" stroke-width="1.1" stroke-dasharray="1.2 3.2" fill="none"><path d="M78 874.5V482.8"/><path d="M136.5 874.5V482.8"/><path d="M195 874.5V482.8"/><path d="M253.5 874.5V482.8"/><path d="M312 874.5V482.8"/><path d="M370.5 874.5V482.8"/><path d="M429 874.5V482.8"/><path d="M48.75 818.54H458.25"/><path d="M48.75 762.58H458.25"/><path d="M48.75 706.62H458.25"/><path d="M48.75 650.66H458.25"/><path d="M48.75 594.7H458.25"/><path d="M48.75 538.74H458.25"/><path d="M48.75 482.78H458.25"/></g>
<g clip-path="url(#bclip)"><rect x="48.75" y="818.04" width="409.5" height="56.96" fill="url(#bh300)"/><rect x="48.75" y="818.04" width="409.5" height="56.96" fill="url(#bh400)" mask="url(#bm300)"/><rect x="48.75" y="762.08" width="409.5" height="56.96" fill="url(#bh400)"/><rect x="48.75" y="762.08" width="409.5" height="56.96" fill="url(#bh500)" mask="url(#bm400)"/><rect x="48.75" y="706.12" width="409.5" height="56.96" fill="url(#bh500)"/><rect x="48.75" y="706.12" width="409.5" height="56.96" fill="url(#bh600)" mask="url(#bm500)"/><rect x="48.75" y="650.16" width="409.5" height="56.96" fill="url(#bh600)"/><rect x="48.75" y="650.16" width="409.5" height="56.96" fill="url(#bh700)" mask="url(#bm600)"/><rect x="48.75" y="594.2" width="409.5" height="56.96" fill="url(#bh700)"/><rect x="48.75" y="594.2" width="409.5" height="56.96" fill="url(#bh800)" mask="url(#bm700)"/><rect x="48.75" y="538.24" width="409.5" height="56.96" fill="url(#bh800)"/><rect x="48.75" y="538.24" width="409.5" height="56.96" fill="url(#bh900)" mask="url(#bm800)"/><rect x="48.75" y="482.28" width="409.5" height="56.96" fill="url(#bh900)"/><rect x="48.75" y="482.28" width="409.5" height="56.96" fill="url(#bh1000)" mask="url(#bm900)"/><rect x="48.75" y="481.78" width="411.5" height="393.72" fill="url(#bec)" mask="url(#bfm)"/></g>
<path d="M48.75 482.8V874.5H458.25M78 874.5v-3.5M136.5 874.5v-3.5M195 874.5v-3.5M253.5 874.5v-3.5M312 874.5v-3.5M370.5 874.5v-3.5M429 874.5v-3.5M48.75 818.54h3.5M48.75 762.58h3.5M48.75 706.62h3.5M48.75 650.66h3.5M48.75 594.7h3.5M48.75 538.74h3.5M48.75 482.78h3.5" stroke="#2a2a2a" stroke-width="0.9" fill="none"/>
<g font-size="13.6" fill="#111"><text x="45.35" y="880" text-anchor="end">300</text><text x="45.35" y="824.04" text-anchor="end">400</text><text x="45.35" y="768.08" text-anchor="end">500</text><text x="45.35" y="712.12" text-anchor="end">600</text><text x="45.35" y="656.16" text-anchor="end">700</text><text x="45.35" y="600.2" text-anchor="end">800</text><text x="45.35" y="544.24" text-anchor="end">900</text><text x="45.35" y="488.28" text-anchor="end">1000</text><text x="78" y="890.9" text-anchor="middle">100</text><text x="136.5" y="890.9" text-anchor="middle">200</text><text x="195" y="890.9" text-anchor="middle">300</text><text x="253.5" y="890.9" text-anchor="middle">400</text><text x="312" y="890.9" text-anchor="middle">500</text><text x="370.5" y="890.9" text-anchor="middle">600</text><text x="429" y="890.9" text-anchor="middle">700</text></g>
<text x="252" y="907.5" font-size="13.8" text-anchor="middle" fill="#111">Radius (nm)</text>
<text transform="translate(15 657.5) rotate(-90)" font-size="13.95" text-anchor="middle" fill="#111">Lattice constant (nm)</text>
<text x="54.3" y="512.5" font-size="29" fill="#000">(b)</text>
<rect x="476.7" y="483.2" width="22.9" height="391.3" fill="url(#bcb)" stroke="#333" stroke-width="0.7"/><g font-size="13.7" fill="#111"><path d="M496.6 833.45H499.6M476.7 833.45h3" stroke="#333" stroke-width="0.6"/><text x="502.9" y="837.85">23</text><path d="M496.6 768.1H499.6M476.7 768.1h3" stroke="#333" stroke-width="0.6"/><text x="502.9" y="772.5">24</text><path d="M496.6 702.75H499.6M476.7 702.75h3" stroke="#333" stroke-width="0.6"/><text x="502.9" y="707.15">25</text><path d="M496.6 637.4H499.6M476.7 637.4h3" stroke="#333" stroke-width="0.6"/><text x="502.9" y="641.8">26</text><path d="M496.6 572.05H499.6M476.7 572.05h3" stroke="#333" stroke-width="0.6"/><text x="502.9" y="576.45">27</text><path d="M496.6 506.7H499.6M476.7 506.7h3" stroke="#333" stroke-width="0.6"/><text x="502.9" y="511.1">28</text></g>
</svg>
</body></html>
